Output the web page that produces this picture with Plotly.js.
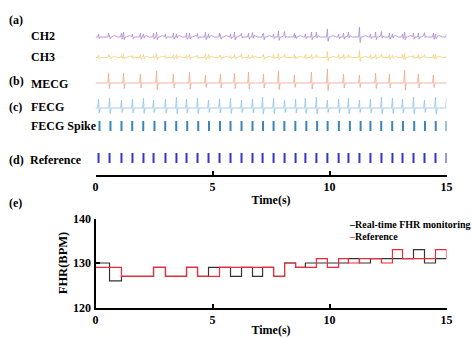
<!DOCTYPE html>
<html>
<head>
<meta charset="utf-8">
<script src="https://cdn.plot.ly/plotly-3.0.1.min.js"></script>
<style>html,body{margin:0;padding:0;background:#fff;}#chart{width:474px;height:338px;}</style>
</head>
<body>
<div id="chart"></div>
<script>
// ---------------- DATA ----------------
// Maternal beat times (s) seen on MECG / abdominal channels
const maternalBeats = [0.56, 1.20, 1.92, 2.61, 3.33, 4.02, 4.70, 5.34, 5.94, 6.54, 7.18,
  7.82, 8.50, 9.23, 9.91, 10.60, 11.28, 11.97, 12.56, 13.21, 13.80, 14.44];
// MECG R-peak amplitudes (a.u.)
const mecgAmp = [10, 10, 9, 12, 9, 11, 8, 9, 10, 11, 9, 12, 8, 11, 14, 9, 8, 10, 9, 13, 9, 8];
// Reference fetal beat times (s)
const referenceBeats = [0.13, 0.60, 1.11, 1.58, 2.05, 2.48, 2.99, 3.46, 3.89, 4.36, 4.83,
  5.30, 5.77, 6.24, 6.71, 7.14, 7.61, 8.08, 8.55, 8.97, 9.44, 9.91, 10.39, 10.81, 11.28,
  11.75, 12.22, 12.69, 13.12, 13.59, 14.06, 14.53, 15.00];
// FECG amplitudes (a.u.)
const fecgAmp = [9, 10, 8, 9, 10, 8, 9, 11, 9, 10, 8, 9, 10, 8, 9, 11, 10, 8, 9, 10, 11,
  8, 9, 10, 8, 9, 11, 10, 9, 11, 8, 11, 10];
// Detected FECG spike times (s)
const fecgSpikeTimes = [0.17, 0.64, 1.11, 1.57, 2.04, 2.52, 2.98, 3.45, 3.92, 4.39, 4.85,
  5.32, 5.77, 6.24, 6.71, 7.16, 7.61, 8.07, 8.54, 9.01, 9.47, 9.92, 10.40, 10.87, 11.33,
  11.75, 12.21, 12.68, 13.14, 13.62, 14.08, 14.54, 15.00];
// Abdominal channel amplitudes (maternal / fetal components, a.u.)
const ch2MaternalAmp = [4, 5, 4, 5, 4, 4, 5, 4, 5, 4, 5, 6, 4, 5, 5, 4, 7, 5, 4, 5, 4, 4];
const ch2FetalAmp = [3, 3, 4, 3, 3, 4, 3, 3, 4, 3, 3, 4, 3, 3, 4, 3, 3, 4, 3, 3, 4, 3, 3,
  4, 3, 3, 4, 3, 3, 4, 3, 3, 3];
const ch3MaternalAmp = [3, 3, 3, 4, 3, 3, 4, 3, 3, 3, 4, 4, 3, 3, 4, 3, 5, 3, 3, 4, 3, 3];
const ch3FetalAmp = [2, 3, 2, 2, 3, 2, 2, 3, 2, 2, 3, 2, 2, 3, 2, 2, 3, 2, 2, 3, 2, 2, 3,
  2, 2, 3, 2, 2, 3, 2, 2, 3, 2];
// FHR step series (BPM) at beat edges (s)
const fhrTime = [0, 0.60, 1.11, 1.58, 2.05, 2.48, 2.99, 3.46, 3.89, 4.36, 4.83, 5.30, 5.77,
  6.24, 6.71, 7.14, 7.61, 8.08, 8.55, 8.97, 9.44, 9.91, 10.39, 10.81, 11.28, 11.75, 12.22,
  12.69, 13.12, 13.59, 14.06, 14.53, 15.00];
const fhrMonitoring = [130, 126, 127, 127, 127, 129, 127, 127, 129, 127, 129, 129, 127, 129,
  127, 129, 127, 130, 129, 130, 130, 130, 130, 131, 130, 131, 131, 131, 131, 133, 130, 131, 131];
const fhrReference = [129, 129, 127, 127, 127, 129, 127, 127, 129, 127, 127, 129, 129, 129,
  129, 129, 127, 130, 129, 129, 131, 129, 131, 130, 131, 131, 130, 133, 131, 131, 131, 133, 131];
const timeTicks = [0, 5, 10, 15];
const fhrTicks = [120, 130, 140];

// ---------------- helpers to draw waveforms from beat events ----------------
function qrs(t0, a) { return [[t0 - 0.035, 0], [t0, a], [t0 + 0.03, -0.55 * a], [t0 + 0.07, 0]]; }
function twave(t0, a) { return [[t0 + 0.12, 0], [t0 + 0.25, a], [t0 + 0.38, 0]]; }
function evalK(k, t) {
  if (t <= k[0][0] || t >= k[k.length - 1][0]) return 0;
  for (let i = 0; i < k.length - 1; i++) {
    if (t >= k[i][0] && t <= k[i + 1][0]) {
      const f = (t - k[i][0]) / (k[i + 1][0] - k[i][0]);
      return k[i][1] + f * (k[i + 1][1] - k[i][1]);
    }
  }
  return 0;
}
function wave(kernels, offset) {
  const set = new Set([0, 15]);
  kernels.forEach(k => k.forEach(p => { if (p[0] >= 0 && p[0] <= 15) set.add(+p[0].toFixed(4)); }));
  const xs = [...set].sort((a, b) => a - b);
  const ys = xs.map(t => offset + kernels.reduce((s, k) => s + evalK(k, t), 0));
  return { x: xs, y: ys };
}
function bars(times, lo, hi) {
  const x = [], y = [];
  times.forEach(t => { x.push(t, t, null); y.push(lo, hi, null); });
  return { x, y };
}

// row positions (layout only)
const ROW = { ch2: 138, ch3: 117.5, mecg: 92, fecg: 67 };

const ch2K = [];
maternalBeats.forEach((t, i) => { ch2K.push(qrs(t, ch2MaternalAmp[i])); ch2K.push(twave(t, 1.5)); });
referenceBeats.forEach((t, i) => ch2K.push(qrs(t, ch2FetalAmp[i])));
const ch3K = [];
maternalBeats.forEach((t, i) => { ch3K.push(qrs(t, ch3MaternalAmp[i])); ch3K.push(twave(t, 1.2)); });
referenceBeats.forEach((t, i) => ch3K.push(qrs(t, ch3FetalAmp[i])));
const mecgK = maternalBeats.map((t, i) => qrs(t, mecgAmp[i]));
const fecgK = referenceBeats.map((t, i) => qrs(t, fecgAmp[i]));

const w2 = wave(ch2K, ROW.ch2), w3 = wave(ch3K, ROW.ch3), wm = wave(mecgK, ROW.mecg), wf = wave(fecgK, ROW.fecg);
const bS = bars(fecgSpikeTimes, 44, 54), bR = bars(referenceBeats, 12, 22);

const traces = [
  { x: w2.x, y: w2.y, mode: 'lines', line: { color: '#b491d0', width: 0.9 }, xaxis: 'x', yaxis: 'y', name: 'CH2' },
  { x: w3.x, y: w3.y, mode: 'lines', line: { color: '#f5d283', width: 0.9 }, xaxis: 'x', yaxis: 'y', name: 'CH3' },
  { x: wm.x, y: wm.y, mode: 'lines', line: { color: '#eeae94', width: 0.9 }, xaxis: 'x', yaxis: 'y', name: 'MECG' },
  { x: wf.x, y: wf.y, mode: 'lines', line: { color: '#98c6e6', width: 0.9 }, xaxis: 'x', yaxis: 'y', name: 'FECG' },
  { x: bS.x, y: bS.y, mode: 'lines', line: { color: '#3b86b8', width: 2 }, xaxis: 'x', yaxis: 'y', name: 'FECG Spike' },
  { x: bR.x, y: bR.y, mode: 'lines', line: { color: '#3535c8', width: 2 }, xaxis: 'x', yaxis: 'y', name: 'Reference' },
  { x: fhrTime, y: fhrMonitoring, mode: 'lines', line: { color: '#333333', width: 1.2, shape: 'hv' }, xaxis: 'x2', yaxis: 'y2', name: 'Real-time FHR monitoring' },
  { x: fhrTime, y: fhrReference, mode: 'lines', line: { color: '#ee2b36', width: 1.2, shape: 'hv' }, xaxis: 'x2', yaxis: 'y2', name: 'Reference' }
];

const F = 'Liberation Serif, Times New Roman, serif';
const W = 474, H = 338;
const px = v => v / W, py = v => 1 - v / H;
const axX = {
  range: [0, 15], tickvals: timeTicks, ticktext: timeTicks.map(String), showline: true, linecolor: '#000', linewidth: 2,
  ticks: 'inside', ticklen: 4, tickwidth: 2, tickcolor: '#000', showgrid: false, zeroline: false,
  tickfont: { family: F, size: 12, color: '#000', weight: 'bold' }, fixedrange: true,
  domain: [px(95.5), px(446.5)]
};
function lab(text, x, y, size) {
  return { text: text, xref: 'paper', yref: 'paper', x: px(x), y: py(y), xanchor: 'left', yanchor: 'middle', showarrow: false,
    font: { family: F, size: size || 12, color: '#000', weight: 'bold' } };
}
const layout = {
  width: W, height: H, margin: { l: 0, r: 0, t: 0, b: 0 }, paper_bgcolor: '#fff', plot_bgcolor: '#fff',
  showlegend: false,
  xaxis: Object.assign({}, axX, { anchor: 'y', title: { text: 'Time(s)', font: { family: F, size: 12, color: '#000', weight: 'bold' }, standoff: 2 } }),
  yaxis: { domain: [py(175), py(20)], range: [0, 155], visible: false, fixedrange: true },
  xaxis2: Object.assign({}, axX, { anchor: 'y2', title: { text: 'Time(s)', font: { family: F, size: 12, color: '#000', weight: 'bold' }, standoff: 0 } }),
  yaxis2: {
    domain: [py(307.5), py(218.5)], range: [120, 140], tickvals: fhrTicks, showline: true, linecolor: '#000', linewidth: 2,
    ticks: 'inside', ticklen: 4, tickwidth: 2, tickcolor: '#000', showgrid: false, zeroline: false, anchor: 'x2',
    tickfont: { family: F, size: 12, color: '#000', weight: 'bold' }, fixedrange: true,
    title: { text: 'FHR(BPM)', font: { family: F, size: 12.5, color: '#000', weight: 'bold' }, standoff: 3 }
  },
  annotations: [
    lab('(a)', 7, 20), lab('CH2', 29, 36), lab('CH3', 29, 57),
    lab('(b)', 7, 81), lab('MECG', 29, 84),
    lab('(c)', 7, 107), lab('FECG', 29, 107), lab('FECG Spike', 29, 126),
    lab('(d)', 7, 160), lab('Reference', 28, 160),
    lab('(e)', 7, 203),
    lab('<span style="color:#000">–</span>Real-time FHR monitoring', 347, 224, 10),
    lab('<span style="color:#ee2b36">–</span>Reference', 347, 236.5, 10)
  ]
};
Plotly.newPlot('chart', traces, layout, { staticPlot: true, displayModeBar: false });
</script>
</body>
</html>
